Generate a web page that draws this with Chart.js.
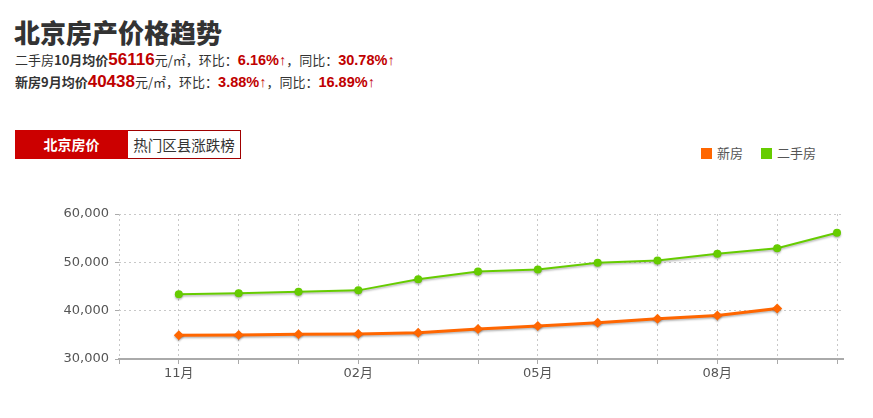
<!DOCTYPE html>
<html>
<head>
<meta charset="utf-8">
<script src="https://cdn.jsdelivr.net/npm/chart.js@4/dist/chart.umd.min.js"></script>
<style>
  html, body { margin: 0; padding: 0; background: #fff; }
  body { width: 873px; height: 418px; position: relative; overflow: hidden;
         font-family: "Noto Sans CJK SC", "DejaVu Sans", sans-serif; color: #333; }
  .abs { position: absolute; white-space: nowrap; }
  #title { left: 14px; top: 12px; font-size: 26px; font-weight: 900; line-height: 40px; color: #333; }
  .line { left: 15px; font-size: 13px; line-height: 20px; color: #333; }
  #l1 { top: 50px; }
  #l2 { top: 72px; }
  .b { font-weight: bold; }
  .big { color: #c00000; font-weight: bold; font-size: 17px; font-family: "Liberation Sans", sans-serif; }
  .red { color: #c00000; font-weight: bold; font-size: 14.5px; font-family: "Liberation Sans", sans-serif; }
  #tab1 { left: 15px; top: 130px; width: 113px; height: 29px; background: #cc0000; color: #fff;
          font-size: 14px; font-weight: bold; line-height: 29px; text-align: center; }
  #tab2 { left: 128px; top: 130px; width: 112px; height: 27px; border: 1px solid #a00000; border-left: none;
          background: #fff; color: #333; font-size: 14.5px; line-height: 27px; text-align: center; }
  #legend { left: 701px; top: 145px; font-size: 13px; color: #555; line-height: 16px; }
  .sw { display: inline-block; width: 11px; height: 11px; vertical-align: -1px; margin-right: 5px; }
  #chartbox { position: absolute; left: 0; top: 190px; width: 873px; height: 228px; }
</style>
</head>
<body>
<div id="title" class="abs">北京房产价格趋势</div>
<div id="l1" class="abs line">二手房<span class="b">10月均价</span><span class="big">56116</span>元/㎡，环比：<span class="red">6.16%↑</span>，同比：<span class="red">30.78%↑</span></div>
<div id="l2" class="abs line"><span class="b">新房9月均价</span><span class="big">40438</span>元/㎡，环比：<span class="red">3.88%↑</span>，同比：<span class="red">16.89%↑</span></div>
<div id="tab1" class="abs">北京房价</div>
<div id="tab2" class="abs">热门区县涨跌榜</div>
<div id="legend" class="abs"><span class="sw" style="background:#ff6600"></span>新房<span style="display:inline-block;width:18px"></span><span class="sw" style="background:#66cc00"></span>二手房</div>
<div id="chartbox"><canvas id="c"></canvas></div>
<script>
// ---- data ----
const months = ['10月', '11月', '12月', '01月', '02月', '03月', '04月', '05月', '06月', '07月', '08月', '09月', '10月'];
const shownMonths = ['11月', '02月', '05月', '08月'];
const newHouse = [null, 34900, 34950, 35100, 35150, 35450, 36200, 36850, 37500, 38350, 38980, 40438, null];
const secondHand = [null, 43400, 43600, 43900, 44200, 46500, 48100, 48500, 49900, 50400, 51800, 52900, 56116];
const yTicks = [30000, 40000, 50000, 60000];

const toPoints = arr => arr.map((v, i) => ({ x: i, y: v }));

const shadowPlugin = {
  id: 'lineShadow',
  beforeDatasetDraw(chart) {
    const ctx = chart.ctx;
    ctx.save();
    ctx.shadowColor = 'rgba(0,0,0,0.28)';
    ctx.shadowBlur = 2;
    ctx.shadowOffsetX = 0;
    ctx.shadowOffsetY = 1.5;
  },
  afterDatasetDraw(chart) { chart.ctx.restore(); }
};

new Chart(document.getElementById('c'), {
  type: 'line',
  data: {
    datasets: [
      { label: '二手房', data: toPoints(secondHand), borderColor: '#66cc00', backgroundColor: '#66cc00',
        borderWidth: 2, pointRadius: 4, pointHoverRadius: 4, pointStyle: 'circle', pointBorderWidth: 0, tension: 0 },
      { label: '新房', data: toPoints(newHouse), borderColor: '#ff6600', backgroundColor: '#ff6600',
        borderWidth: 3, pointRadius: 5, pointHoverRadius: 5, pointStyle: 'rectRot', pointBorderWidth: 0, tension: 0 }
    ]
  },
  plugins: [shadowPlugin],
  options: {
    responsive: true,
    maintainAspectRatio: false,
    animation: false,
    layout: { padding: { top: 24, right: 30, left: 0, bottom: 0 } },
    plugins: { legend: { display: false }, tooltip: { enabled: false } },
    scales: {
      x: {
        type: 'linear',
        min: 0,
        max: 12.1,
        afterFit: s => { s.height = 59; },
        ticks: {
          stepSize: 1,
          includeBounds: false,
          autoSkip: false,
          maxRotation: 0,
          padding: 2,
          color: '#555',
          font: { family: '"DejaVu Sans", "Noto Sans CJK SC", sans-serif', size: 13 },
          callback: v => (Number.isInteger(v) && v > 0 && shownMonths.includes(months[v])) ? months[v] : ''
        },
        grid: { color: '#c8c8c8', drawTicks: true, tickLength: 5, tickColor: '#aaa', tickBorderDash: [] },
        border: { display: true, color: '#aaa', width: 2, dash: [2, 3] }
      },
      y: {
        min: 30000,
        max: 60000,
        afterFit: s => { s.width = 119; },
        afterBuildTicks: s => { s.ticks = yTicks.map(v => ({ value: v })); },
        ticks: {
          padding: 6,
          color: '#555',
          font: { family: '"DejaVu Sans", sans-serif', size: 13 },
          callback: v => v.toLocaleString('en-US')
        },
        grid: { color: '#c8c8c8', drawTicks: true, tickLength: 4, tickColor: '#aaa', tickBorderDash: [] },
        border: { display: false, dash: [2, 3] }
      }
    }
  }
});
</script>
</body>
</html>
